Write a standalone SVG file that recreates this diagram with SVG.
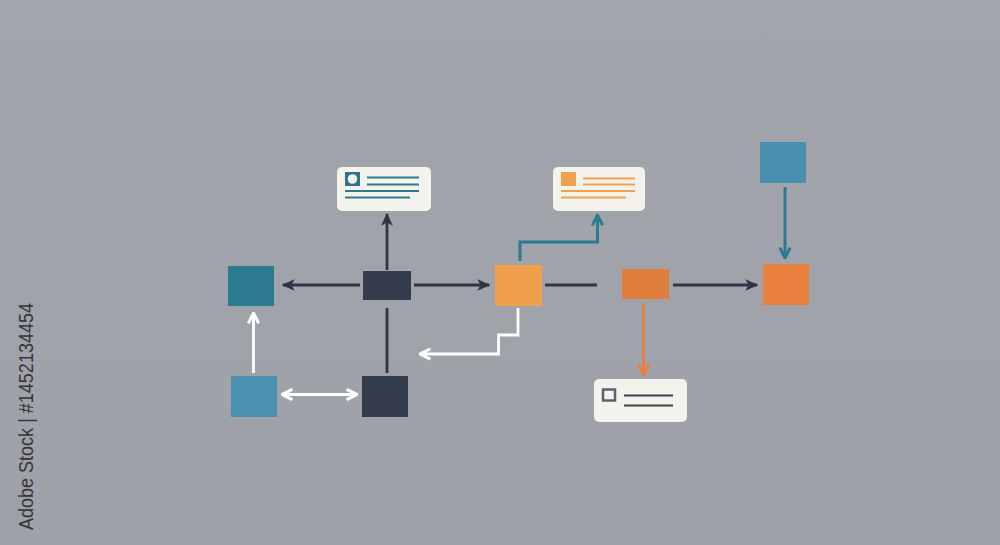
<svg xmlns="http://www.w3.org/2000/svg" width="1000" height="545" viewBox="0 0 1000 545">
  <style>
    .card { fill: #f4f2ec; }
    .dark { fill: #343d4b; }
    .c { fill: none; stroke-width: 2.8; stroke-linecap: butt; stroke-linejoin: miter; }
    .cd { stroke: #2e3646; }
    .ct { stroke: #2a7a90; stroke-width: 3; }
    .cw { stroke: #ffffff; }
    .co { stroke: #e8813d; }
    .tl { stroke: #2f7a8a; stroke-width: 1.8; }
    .ol { stroke: #eea24f; stroke-width: 1.8; }
    .gl { stroke: #3a4150; stroke-width: 1.8; }
  </style>
  <defs>
    <linearGradient id="bg" x1="0" y1="0" x2="0" y2="1">
      <stop offset="0" stop-color="#a2a5ab"/>
      <stop offset="1" stop-color="#9ea1a7"/>
    </linearGradient>
    <marker id="aD" viewBox="0 0 10 10" refX="9" refY="5" markerWidth="13" markerHeight="13" markerUnits="userSpaceOnUse" orient="auto">
      <path d="M0,0.5 L10,5 L0,9.5 L2.5,5 z" fill="#2e3646"/>
    </marker>
    <marker id="aT" viewBox="0 0 10 10" refX="9" refY="5" markerWidth="13" markerHeight="13" markerUnits="userSpaceOnUse" orient="auto">
      <path d="M1,1 L9,5 L1,9" fill="none" stroke="#2a7a90" stroke-width="2.3"/>
    </marker>
    <marker id="aO" viewBox="0 0 10 10" refX="9" refY="5" markerWidth="13" markerHeight="13" markerUnits="userSpaceOnUse" orient="auto">
      <path d="M1,1 L9,5 L1,9" fill="none" stroke="#e8813d" stroke-width="2.3"/>
    </marker>
    <marker id="aW" viewBox="0 0 10 10" refX="9" refY="5" markerWidth="13" markerHeight="13" markerUnits="userSpaceOnUse" orient="auto-start-reverse">
      <path d="M1,1 L9,5 L1,9" fill="none" stroke="#ffffff" stroke-width="2.3"/>
    </marker>
  </defs>

  <rect x="0" y="0" width="1000" height="545" fill="url(#bg)"/>

  <g id="connectors">
    <line class="c cd" x1="387" y1="270" x2="387" y2="214" marker-end="url(#aD)"/>
    <line class="c cd" x1="360" y1="285" x2="283" y2="285" marker-end="url(#aD)"/>
    <line class="c cd" x1="414" y1="285" x2="489" y2="285" marker-end="url(#aD)"/>
    <line class="c cd" x1="387" y1="308" x2="387" y2="373"/>
    <line class="c cw" x1="253.5" y1="373" x2="253.5" y2="313" marker-end="url(#aW)"/>
    <line class="c cw" x1="282" y1="394.5" x2="357" y2="394.5" marker-start="url(#aW)" marker-end="url(#aW)"/>
    <polyline class="c cw" points="518,308 518,335 498.5,335 498.5,354 420,354" marker-end="url(#aW)"/>
    <polyline class="c ct" points="520,261 520,242 597.5,242 597.5,215" marker-end="url(#aT)"/>
    <line class="c cd" x1="545" y1="285" x2="597" y2="285"/>
    <line class="c cd" x1="673" y1="285" x2="757" y2="285" marker-end="url(#aD)"/>
    <line class="c ct" x1="785" y1="187" x2="785" y2="258" marker-end="url(#aT)"/>
    <line class="c co" x1="643.5" y1="303" x2="643.5" y2="375" marker-end="url(#aO)"/>
  </g>

  <g id="card-teal">
    <rect class="card" x="337" y="167" width="94" height="44" rx="5"/>
    <rect x="345" y="172" width="15" height="14" fill="#2d7486"/>
    <circle cx="352.5" cy="179" r="4.8" fill="#f4f2ec"/>
    <line class="tl" x1="367" y1="177.5" x2="419" y2="177.5"/>
    <line class="tl" x1="367" y1="184.5" x2="419" y2="184.5"/>
    <line class="tl" x1="345" y1="191" x2="419" y2="191"/>
    <line class="tl" x1="345" y1="197.5" x2="410" y2="197.5"/>
  </g>

  <g id="card-orange">
    <rect class="card" x="553" y="167" width="92" height="44" rx="5"/>
    <rect x="561" y="172" width="15" height="14" fill="#eea24f"/>
    <line class="ol" x1="583" y1="178.5" x2="635" y2="178.5"/>
    <line class="ol" x1="583" y1="184.5" x2="635" y2="184.5"/>
    <line class="ol" x1="561" y1="191" x2="635" y2="191"/>
    <line class="ol" x1="561" y1="197.5" x2="626" y2="197.5"/>
  </g>

  <g id="card-gray">
    <rect class="card" x="594" y="379" width="93" height="43" rx="5"/>
    <rect x="603" y="389.5" width="12" height="11" fill="none" stroke="#5a6170" stroke-width="2.5"/>
    <line class="gl" x1="624" y1="395.5" x2="673" y2="395.5"/>
    <line class="gl" x1="624" y1="405.5" x2="673" y2="405.5"/>
  </g>

  <g id="node-center"><rect class="dark" x="363" y="271" width="48" height="29"/></g>
  <g id="node-left-teal"><rect x="228" y="266" width="46" height="40" fill="#2c7a8f"/></g>
  <g id="node-orange"><rect x="495" y="265" width="47" height="41" fill="#f0a04b"/></g>
  <g id="node-bottom-dark"><rect class="dark" x="362" y="376" width="46" height="41"/></g>
  <g id="node-bottom-blue"><rect x="231" y="376" width="46" height="41" fill="#4a90b0"/></g>
  <g id="node-mid-orange"><rect x="622" y="269" width="47" height="30" fill="#e07e3c"/></g>
  <g id="node-right-orange"><rect x="763" y="264" width="46" height="41" fill="#e8813d"/></g>
  <g id="node-top-blue"><rect x="760" y="142" width="46" height="41" fill="#4a8fb0"/></g>

  <text transform="translate(32.5,530) rotate(-90)" font-family="Liberation Sans, Arial, sans-serif" font-size="21" fill="#33363e" textLength="227" lengthAdjust="spacingAndGlyphs">Adobe Stock | #1452134454</text>
</svg>
